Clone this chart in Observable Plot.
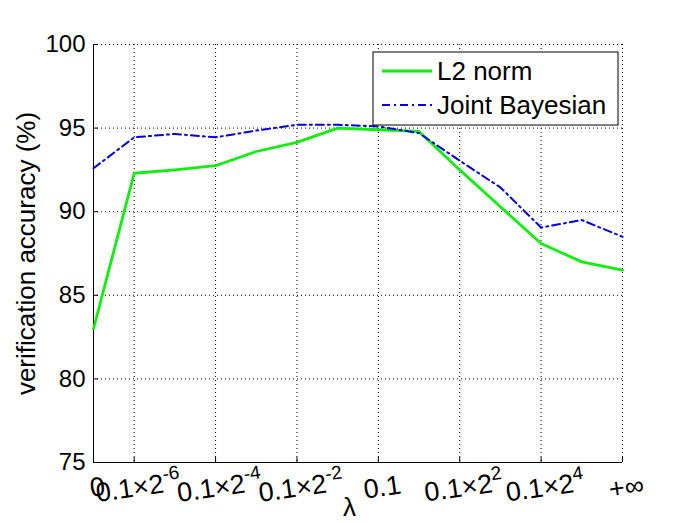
<!DOCTYPE html>
<html><head><meta charset="utf-8">
<script src="https://cdn.jsdelivr.net/npm/d3@7"></script>
<script src="https://cdn.jsdelivr.net/npm/@observablehq/plot@0.6"></script>
<style>body{margin:0;background:#fff} svg{font-family:"Liberation Sans",Arial,sans-serif}</style>
</head><body><div id="chart"></div>
<script>
// x position index: -7 = "0", k = 0.1×2^k, 6 = "+∞"
const xIndex = [-7,-6,-5,-4,-3,-2,-1,0,1,2,3,4,5,6];
const l2Norm = [83.0,92.3,92.5,92.75,93.6,94.15,95.0,94.9,94.8,92.5,90.3,88.1,87.0,86.5];
const jointBayesian = [92.6,94.45,94.65,94.45,94.85,95.2,95.2,95.1,94.7,93.05,91.45,89.05,89.5,88.5];
const xTickPos = [-7,-6,-4,-2,0,2,4,6];
const xTickBase = ["0","0.1×2","0.1×2","0.1×2","0.1","0.1×2","0.1×2","+∞"];
const xTickExp = ["","-6","-4","-2","","2","4",""];
const yTicks = [75,80,85,90,95,100];
const seriesNames = ["L2 norm","Joint Bayesian"];
const seriesColors = ["#10ee10","#0000e0"];
const seriesDash = [null,"8,4,2,4"];
const xLabel = "λ";
const yLabel = "verification accuracy (%)";

const W = 692, H = 523, mL = 93, mR = 70, mT = 44, mB = 61;
const pW = W - mL - mR, pH = H - mT - mB;
const dotted = {stroke:"black", strokeOpacity:1, strokeWidth:1, strokeDasharray:"1,3"};

const plot = Plot.plot({
  width: W, height: H,
  marginLeft: mL, marginRight: mR, marginTop: mT, marginBottom: mB,
  style: {fontFamily: '"Liberation Sans", Arial, sans-serif', background: "white", color: "black"},
  x: {domain: [-7, 6], axis: null},
  y: {domain: [75, 100], axis: null},
  marks: [
    Plot.gridX(xTickPos, dotted),
    Plot.gridY(yTicks, dotted),
    Plot.tickX(xTickPos, {x: d => d, insetTop: pH - 5, stroke: "black"}),
    Plot.tickY(yTicks, {y: d => d, insetRight: pW - 5, stroke: "black"}),
    Plot.ruleX([-7], {stroke: "black"}),
    Plot.ruleY([75], {stroke: "black"}),
    Plot.axisY(yTicks, {tickSize: 0, tickPadding: 8, fontSize: 24, label: null}),
    Plot.line(xIndex, {x: d => d, y: (d, i) => l2Norm[i], stroke: seriesColors[0], strokeWidth: 2.8}),
    Plot.line(xIndex, {x: d => d, y: (d, i) => jointBayesian[i], stroke: seriesColors[1], strokeWidth: 2, strokeDasharray: seriesDash[1]}),
    Plot.text(xTickPos, {x: d => d, text: (d, i) => xTickBase[i], frameAnchor: "bottom", lineAnchor: "middle", textAnchor: "middle", dx: 4, dy: 25, rotate: -8, fontSize: 27}),
    Plot.text([yLabel], {frameAnchor: "left", textAnchor: "middle", lineAnchor: "middle", dx: -67, rotate: -90, fontSize: 26}),
    Plot.text([xLabel], {frameAnchor: "bottom", textAnchor: "middle", lineAnchor: "middle", dx: -8.5, dy: 45, fontSize: 26})
  ]
});

const svg = d3.select(plot);
const tickGroup = svg.selectAll('g[aria-label="text"]').nodes()[0];
d3.select(tickGroup).selectAll("text").each(function(d, i) {
  const e = xTickExp[i];
  if (e) d3.select(this).append("tspan").attr("dy", -12).attr("font-size", 19).text(e);
});

// legend
const bx = W - mR - 4 - 245, by = mT + 8;
const lg = svg.append("g").attr("text-anchor", "start");
lg.append("rect").attr("x", bx).attr("y", by).attr("width", 245).attr("height", 73)
  .attr("fill", "white").attr("stroke", "black");
seriesNames.forEach((name, i) => {
  const cy = by + 19 + i * 34;
  lg.append("line").attr("x1", bx + 9).attr("x2", bx + 59).attr("y1", cy).attr("y2", cy)
    .attr("stroke", seriesColors[i]).attr("stroke-width", i === 0 ? 2.8 : 2)
    .attr("stroke-dasharray", seriesDash[i]);
  lg.append("text").attr("x", bx + 64).attr("y", cy).attr("dy", "0.35em")
    .attr("text-anchor", "start").attr("font-size", 26).attr("fill", "black").text(name);
});

document.getElementById("chart").appendChild(plot);
</script>
</body></html>
